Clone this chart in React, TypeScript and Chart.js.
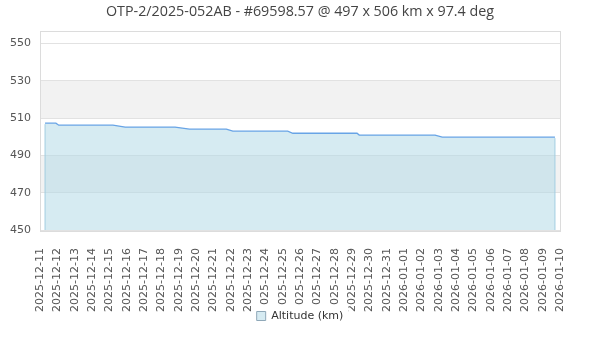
import React, { useEffect, useRef } from "react";
import { Chart, registerables } from "chart.js";

Chart.register(...registerables);

const titleText = "OTP-2/2025-052AB - #69598.57 @ 497 x 506 km x 97.4 deg";
const seriesLabel = "Altitude (km)";
const baseDate = "2025-12-11T00:00Z";

const sampleTimes = [
  "2025-12-11T07:00Z",
  "2025-12-11T22:00Z",
  "2025-12-12T02:00Z",
  "2025-12-15T05:00Z",
  "2025-12-15T22:00Z",
  "2025-12-18T19:00Z",
  "2025-12-19T15:00Z",
  "2025-12-21T18:00Z",
  "2025-12-22T03:00Z",
  "2025-12-25T07:00Z",
  "2025-12-25T14:00Z",
  "2025-12-29T07:00Z",
  "2025-12-29T10:00Z",
  "2026-01-02T19:00Z",
  "2026-01-03T05:00Z",
  "2026-01-09T17:00Z",
];

const altitudes = [
  507.3, 507.3, 506.2, 506.2, 505.2, 505.2, 504.1, 504.1, 503.0, 503.0, 501.9,
  501.9, 500.9, 500.9, 499.8, 499.8,
];

const tickLabels = [
  "2025-12-11", "2025-12-12", "2025-12-13", "2025-12-14", "2025-12-15",
  "2025-12-16", "2025-12-17", "2025-12-18", "2025-12-19", "2025-12-20",
  "2025-12-21", "2025-12-22", "2025-12-23", "2025-12-24", "2025-12-25",
  "2025-12-26", "2025-12-27", "2025-12-28", "2025-12-29", "2025-12-30",
  "2025-12-31", "2026-01-01", "2026-01-02", "2026-01-03", "2026-01-04",
  "2026-01-05", "2026-01-06", "2026-01-07", "2026-01-08", "2026-01-09",
  "2026-01-10",
];

const yTicks = [450, 470, 490, 510, 530, 550];
const yMin = 450;
const yMax = 557;

const DAY = 86400000;

const bandsPlugin = {
  id: "bands",
  beforeDraw(chart: any) {
    const { ctx, chartArea } = chart;
    const y = chart.scales.y;
    ctx.save();
    ctx.fillStyle = "#f2f2f2";
    for (let i = 1; i + 1 < yTicks.length; i += 2) {
      const py1 = y.getPixelForValue(yTicks[i + 1]);
      const py2 = y.getPixelForValue(yTicks[i]);
      ctx.fillRect(chartArea.left, py1, chartArea.right - chartArea.left, py2 - py1);
    }
    ctx.restore();
  },
};

const framePlugin = {
  id: "frame",
  afterDatasetsDraw(chart: any) {
    const { ctx, chartArea } = chart;
    const meta = chart.getDatasetMeta(0);
    const pts = meta.data;
    ctx.save();
    if (pts.length) {
      ctx.strokeStyle = "rgba(160,205,225,1)";
      ctx.lineWidth = 1;
      const first = pts[0];
      const last = pts[pts.length - 1];
      ctx.beginPath();
      ctx.moveTo(first.x, first.y + 1);
      ctx.lineTo(first.x, chartArea.bottom);
      ctx.moveTo(last.x, last.y + 1);
      ctx.lineTo(last.x, chartArea.bottom);
      ctx.stroke();
    }
    ctx.strokeStyle = "#dcdcdc";
    ctx.lineWidth = 1;
    ctx.strokeRect(
      Math.round(chartArea.left) + 0.5,
      Math.round(chartArea.top) + 0.5,
      Math.round(chartArea.right - chartArea.left),
      Math.round(chartArea.bottom - chartArea.top)
    );
    ctx.restore();
  },
  afterDraw(chart: any) {
    const legend = chart.legend;
    if (!legend || !legend.legendHitBoxes) return;
    const { ctx } = chart;
    ctx.save();
    ctx.fillStyle = "#ffffff";
    for (const hb of legend.legendHitBoxes) {
      ctx.fillRect(hb.left - 5, hb.top - 5, hb.width + 10, hb.height + 10);
    }
    ctx.restore();
    legend.draw();
  },
};

export default function App() {
  const ref = useRef<HTMLCanvasElement | null>(null);

  useEffect(() => {
    if (!ref.current) return;
    const t0 = Date.parse(baseDate);
    const points = sampleTimes.map((t, i) => ({
      x: (Date.parse(t) - t0) / DAY,
      y: altitudes[i],
    }));
    const chart = new Chart(ref.current, {
      type: "line",
      data: {
        datasets: [
          {
            label: seriesLabel,
            data: points,
            borderColor: "rgb(104,164,230)",
            backgroundColor: "rgba(173,216,230,0.5)",
            borderWidth: 1.3,
            pointRadius: 0,
            tension: 0,
            fill: "start",
          },
        ],
      },
      options: {
        animation: false,
        responsive: false,
        layout: { padding: { left: 0, right: 0, top: 0, bottom: 28.5 } },
        plugins: {
          title: {
            display: true,
            text: titleText,
            color: "#444",
            font: { family: "'Open Sans'", size: 14.3, weight: "normal" },
            padding: { top: 3.3, bottom: 10.04 },
          },
          legend: {
            position: "bottom",
            labels: {
              boxWidth: 9,
              boxHeight: 9,
              color: "#333",
              font: { family: "'DejaVu Sans'", size: 11 },
              generateLabels(chart: any) {
                const items = Chart.defaults.plugins.legend.labels.generateLabels(chart);
                return items.map((it: any) => ({
                  ...it,
                  strokeStyle: "#8fa8b8",
                  lineWidth: 1,
                }));
              },
            },
          },
          tooltip: { enabled: false },
        },
        scales: {
          x: {
            type: "linear",
            min: 0,
            max: tickLabels.length - 1,
            grid: { display: false, drawTicks: false },
            border: { display: false },
            ticks: {
              stepSize: 1,
              autoSkip: false,
              maxRotation: 90,
              minRotation: 90,
              padding: 18,
              color: "#555",
              font: { family: "'DejaVu Sans'", size: 11 },
              callback: (v: any) => tickLabels[Math.round(Number(v))] ?? "",
            },
            afterFit(scale: any) {
              scale.height = 70.5;
              scale._computeLabelArea = () => undefined;
            },
          },
          y: {
            min: yMin,
            max: yMax,
            grid: { color: "#e2e2e2", drawTicks: false },
            border: { display: false },
            afterBuildTicks(scale: any) {
              scale.ticks = yTicks.map((v) => ({ value: v }));
            },
            ticks: {
              padding: 9,
              color: "#555",
              font: { family: "'DejaVu Sans'", size: 11 },
            },
            afterFit(scale: any) {
              scale.width = 40;
            },
          },
          yR: {
            position: "right",
            display: true,
            min: yMin,
            max: yMax,
            grid: { display: false, drawTicks: false },
            border: { display: false },
            ticks: { display: false },
            afterFit(scale: any) {
              scale.width = 40;
            },
          },
        },
      },
      plugins: [bandsPlugin, framePlugin],
    } as any);
    return () => chart.destroy();
  }, []);

  return (
    <div style={{ position: "fixed", left: 0, top: 0, width: 600, height: 360, background: "#fff" }}>
      <canvas ref={ref} width={600} height={360} />
    </div>
  );
}
